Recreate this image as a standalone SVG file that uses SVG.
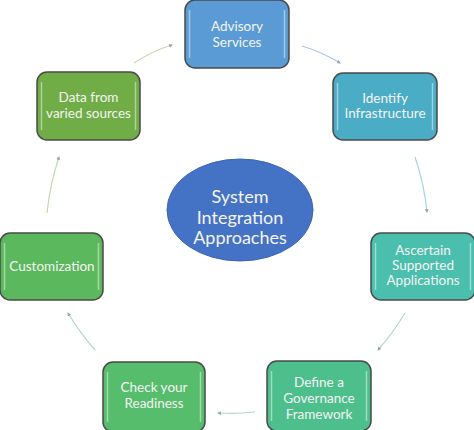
<svg xmlns="http://www.w3.org/2000/svg" width="474" height="430" viewBox="0 0 474 430">
<style>
.box{stroke:#4a4a4a;stroke-width:1.5}
.hl{stroke:#ffffff;stroke-opacity:0.45;stroke-width:1.5;fill:none}
.t{font-family:Lato,"Liberation Sans",sans-serif;font-size:13.5px;fill:#f4f4f4;text-anchor:middle}
.tc{font-family:Lato,"Liberation Sans",sans-serif;font-size:18px;fill:#f4f4f4;text-anchor:middle}
.c{fill:none;stroke-width:1.2}
</style>
<defs>
<marker id="ah" markerWidth="4" markerHeight="4" refX="3" refY="2" orient="auto" markerUnits="userSpaceOnUse">
<path d="M0,0 L4,2 L0,4 Z" fill="#9aa8b0"/>
</marker>
</defs>
<rect width="474" height="430" fill="#ffffff"/>
<g id="connectors">
<path class="c" stroke="#a9c8e4" d="M302,46 Q322,52 340,63" marker-end="url(#ah)"/>
<path class="c" stroke="#a9d4de" d="M415,157 Q424,183 427,212" marker-end="url(#ah)"/>
<path class="c" stroke="#acdccb" d="M405,313 Q393,333 378,350" marker-end="url(#ah)"/>
<path class="c" stroke="#b4d8cc" d="M255,412 Q237,414 218,413" marker-end="url(#ah)"/>
<path class="c" stroke="#b2d8c6" d="M95,350 Q80,333 68,313" marker-end="url(#ah)"/>
<path class="c" stroke="#bcdca8" d="M47,213 Q50,184 59,157" marker-end="url(#ah)"/>
<path class="c" stroke="#cdd6ac" d="M134,63 Q152,51 172,45" marker-end="url(#ah)"/>
</g>
<g id="center">
<ellipse cx="240" cy="210" rx="73" ry="51" fill="#4472c4" stroke="#3b65b3" stroke-width="1"/>
<text class="tc" x="240" y="203">System</text>
<text class="tc" x="240" y="223.5">Integration</text>
<text class="tc" x="240" y="244">Approaches</text>
</g>
<g id="advisory">
<rect class="box" x="185" y="0" width="104" height="68" rx="10" fill="#5b9bd5"/>
<path class="hl" d="M189.5,10 V58 M284.5,10 V58"/>
<text class="t" x="237" y="31">Advisory</text>
<text class="t" x="237" y="47">Services</text>
</g>
<g id="identify">
<rect class="box" x="333" y="73" width="104" height="67" rx="10" fill="#4bacc6"/>
<path class="hl" d="M337.5,83 V130 M432.5,83 V130"/>
<text class="t" x="385" y="102.5">Identify</text>
<text class="t" x="385" y="117.5">Infrastructure</text>
</g>
<g id="ascertain">
<rect class="box" x="371" y="233" width="104" height="67" rx="10" fill="#4bbfad"/>
<path class="hl" d="M375.5,243 V290 M470.5,243 V290"/>
<text class="t" x="423" y="255">Ascertain</text>
<text class="t" x="423" y="270">Supported</text>
<text class="t" x="423" y="285">Applications</text>
</g>
<g id="define">
<rect class="box" x="267" y="361" width="104" height="70" rx="10" fill="#4dbf8c"/>
<path class="hl" d="M271.5,371 V421 M366.5,371 V421"/>
<text class="t" x="319" y="387">Define a</text>
<text class="t" x="319" y="403">Governance</text>
<text class="t" x="319" y="419">Framework</text>
</g>
<g id="check">
<rect class="box" x="103" y="362" width="102" height="70" rx="10" fill="#55bd6b"/>
<path class="hl" d="M107.5,372 V422 M200.5,372 V422"/>
<text class="t" x="154" y="392">Check your</text>
<text class="t" x="154" y="407.5">Readiness</text>
</g>
<g id="customization">
<rect class="box" x="0" y="233" width="103" height="67" rx="10" fill="#5cb85c"/>
<path class="hl" d="M4.5,243 V290 M98.5,243 V290"/>
<text class="t" x="52" y="270.5">Customization</text>
</g>
<g id="data">
<rect class="box" x="37" y="72" width="103" height="68" rx="10" fill="#70ad47"/>
<path class="hl" d="M41.5,82 V130 M135.5,82 V130"/>
<text class="t" x="88.5" y="102">Data from</text>
<text class="t" x="88.5" y="117.5">varied sources</text>
</g>
</svg>
